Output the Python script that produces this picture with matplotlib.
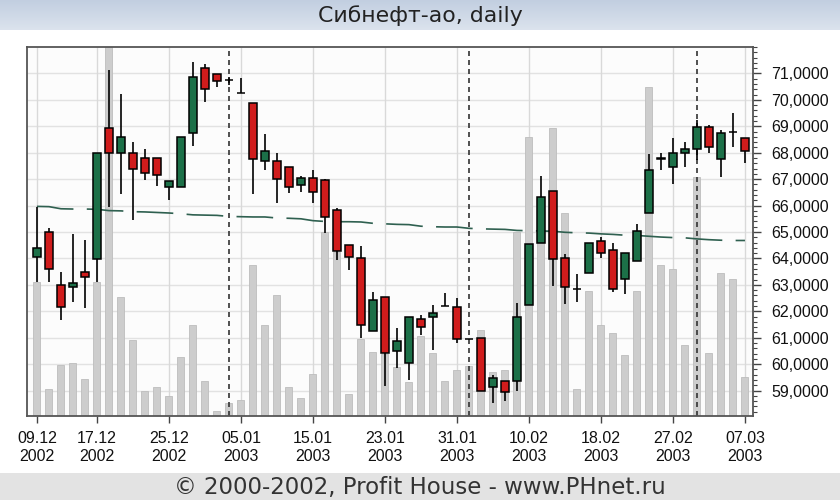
import numpy as np
import matplotlib
matplotlib.use("Agg")
import matplotlib.pyplot as plt
from matplotlib.patches import Rectangle
from matplotlib.ticker import MultipleLocator, FixedLocator, FuncFormatter

# trading days shown on the chart
dates = [
    "09.12.2002", "10.12.2002", "11.12.2002", "13.12.2002", "16.12.2002", "17.12.2002",
    "18.12.2002", "19.12.2002", "20.12.2002", "23.12.2002", "24.12.2002", "25.12.2002",
    "26.12.2002", "27.12.2002", "30.12.2002", "31.12.2002",
    "04.01.2003", "05.01.2003", "08.01.2003", "09.01.2003", "10.01.2003", "13.01.2003",
    "14.01.2003", "15.01.2003", "16.01.2003", "17.01.2003", "20.01.2003", "21.01.2003",
    "22.01.2003", "23.01.2003", "24.01.2003", "27.01.2003", "28.01.2003", "29.01.2003",
    "30.01.2003", "31.01.2003",
    "03.02.2003", "04.02.2003", "05.02.2003", "06.02.2003", "07.02.2003", "10.02.2003",
    "11.02.2003", "12.02.2003", "13.02.2003", "14.02.2003", "17.02.2003", "18.02.2003",
    "19.02.2003", "20.02.2003", "21.02.2003", "25.02.2003", "26.02.2003", "27.02.2003",
    "28.02.2003",
    "03.03.2003", "04.03.2003", "05.03.2003", "06.03.2003", "07.03.2003",
]

open_ = [64.04, 64.99, 63.00, 62.91, 63.48, 63.97, 68.92, 67.98, 68.00, 67.79,
         67.79, 66.72, 66.72, 68.73, 71.19, 70.96, 70.75, 70.27, 69.89, 67.70,
         67.70, 67.47, 66.78, 67.03, 66.97, 65.83, 64.51, 64.01, 61.26, 62.56,
         60.51, 60.06, 61.70, 61.80, 62.22, 62.18, 60.96, 60.98, 59.15, 59.38,
         59.38, 62.24, 64.57, 66.56, 64.01, 62.83, 63.44, 64.67, 64.32, 63.21,
         63.92, 65.71, 67.80, 67.47, 68.00, 68.16, 68.98, 67.75, 68.79, 68.54]
high = [65.96, 65.14, 63.48, 64.93, 64.70, 68.00, 71.13, 70.24, 68.42, 68.16,
        67.79, 66.93, 68.61, 71.42, 71.34, 70.96, 70.87, 70.81, 69.89, 68.71,
        68.00, 67.47, 67.12, 67.35, 67.00, 65.90, 64.51, 64.47, 62.72, 62.56,
        61.36, 61.80, 61.86, 62.24, 62.71, 62.49, 60.96, 60.98, 59.60, 59.38,
        62.33, 64.53, 67.12, 66.56, 64.17, 63.40, 64.60, 64.82, 64.60, 64.22,
        65.30, 67.95, 68.00, 68.54, 68.42, 69.24, 69.05, 68.86, 69.51, 68.54]
low = [63.12, 63.12, 61.67, 62.37, 62.13, 63.12, 65.96, 66.44, 65.45, 66.97,
       66.74, 66.21, 66.72, 68.25, 69.93, 70.47, 70.56, 70.27, 66.44, 67.35,
       66.08, 66.46, 66.53, 66.08, 64.95, 63.94, 63.56, 60.98, 61.26, 59.18,
       59.85, 59.41, 61.11, 60.54, 62.20, 60.79, 60.94, 59.00, 58.52, 58.59,
       58.97, 62.24, 64.57, 62.96, 62.28, 62.37, 63.44, 64.00, 62.75, 62.66,
       63.92, 65.71, 67.35, 66.82, 67.45, 67.72, 67.98, 67.07, 68.20, 67.60]
close = [64.38, 63.59, 62.15, 63.08, 63.29, 68.00, 67.98, 68.61, 67.37, 67.22,
         67.16, 66.93, 68.61, 70.87, 70.40, 70.71, 70.75, 70.27, 67.75, 68.08,
         66.99, 66.72, 67.03, 66.53, 65.56, 64.28, 64.04, 61.49, 62.41, 60.44,
         60.89, 61.80, 61.40, 61.95, 62.22, 60.94, 60.94, 59.00, 59.47, 58.93,
         61.80, 64.53, 66.34, 63.97, 62.91, 62.83, 64.60, 64.22, 62.83, 64.22,
         65.05, 67.35, 67.76, 68.00, 68.16, 68.98, 68.23, 68.76, 68.79, 68.08]
volume = [134, 27, 51, 53, 37, 134, 380, 119, 76, 25,
          29, 20, 59, 91, 35, 5, 13, 16, 151, 91,
          121, 29, 18, 42, 184, 164, 22, 77, 64, 62,
          49, 34, 80, 63, 35, 46, 50, 86, 44, 46,
          184, 279, 190, 288, 203, 27, 125, 91, 83, 61,
          125, 329, 151, 147, 71, 239, 63, 143, 137, 39]
ma_line = [65.97, 65.96, 65.88, 65.87, 65.87, 65.86, 65.81, 65.80, 65.77, 65.76,
           65.74, 65.72, 65.69, 65.65, 65.64, 65.63, 65.59, 65.58, 65.57, 65.57,
           65.53, 65.52, 65.50, 65.43, 65.40, 65.39, 65.39, 65.38, 65.33, 65.31,
           65.29, 65.28, 65.22, 65.20, 65.19, 65.19, 65.14, 65.12, 65.11, 65.10,
           65.06, 65.05, 65.04, 65.03, 64.99, 64.97, 64.96, 64.93, 64.91, 64.88,
           64.87, 64.84, 64.81, 64.79, 64.78, 64.74, 64.71, 64.69, 64.68, 64.68]
price_levels = [59, 60, 61, 62, 63, 64, 65, 66, 67, 68, 69, 70, 71]
tick_dates = ["09.12.2002", "17.12.2002", "25.12.2002", "05.01.2003", "15.01.2003",
              "23.01.2003", "31.01.2003", "10.02.2003", "18.02.2003", "27.02.2003",
              "07.03.2003"]

x = np.arange(len(dates))
o = np.array(open_)
c = np.array(close)
up = c >= o
body_bottom = np.minimum(o, c)
body_height = np.abs(c - o)
colors = np.where(up, "#1c7048", "#d01c1c")

tick_idx = [dates.index(d) for d in tick_dates]
tick_lbl = [d[:5] + "\n" + d[6:] for d in tick_dates]
month_starts = [i for i in range(1, len(dates)) if dates[i][3:5] != dates[i - 1][3:5]]

fig = plt.figure(figsize=(8.4, 5.0), dpi=100)
fig.patch.set_facecolor("white")

# title bar + footer bar
hdr = fig.add_axes([0, 1 - 30 / 500, 1, 30 / 500])
grad = np.linspace(0, 1, 50).reshape(-1, 1)
top_c = np.array([0.76, 0.81, 0.88])
bot_c = np.array([0.86, 0.89, 0.93])
img = top_c + (bot_c - top_c) * grad[:, :, None]
hdr.imshow(img, aspect="auto", extent=[0, 1, 0, 1])
hdr.axis("off")
fig.text(0.5, 1 - 16 / 500, "Сибнефт-ао, daily", ha="center", va="center",
         fontsize=15.8, family="DejaVu Sans", color="#222222")
fig.patches.append(Rectangle((0, 0), 1, 27 / 500, transform=fig.transFigure,
                             facecolor="#e3e3e3", edgecolor="none", zorder=0))
fig.text(0.5, 12.5 / 500, "© 2000-2002, Profit House - www.PHnet.ru", ha="center",
         va="center", fontsize=16.5, family="DejaVu Sans", color="#333333")

ax = fig.add_axes([27 / 840, 84 / 500, 726 / 840, 369 / 500])
ax_vol = ax.twinx()
ax_vol.set_zorder(1)
ax.set_zorder(2)
ax.patch.set_visible(False)
ax_vol.patch.set_visible(True)
ax_vol.patch.set_facecolor("#fcfcfc")

ax.set_xlim(-0.83, 59.67)
ax.set_ylim(58.04, 72.0)
ax_vol.set_ylim(0, 369)

# grid under the volume bars
ax_vol.hlines(price_levels, 0, 1, transform=ax.get_yaxis_transform(), color="#e2e2e2", lw=1.0, zorder=0)
ax_vol.vlines(tick_idx, 0, 1, transform=ax_vol.get_xaxis_transform(), color="#d9d9d9", lw=1.0, zorder=0)

# volume
ax_vol.bar(x, volume, width=0.58, color="#cdcdcd", edgecolor="#bdbdbd", linewidth=0.6, zorder=1)
ax_vol.set_yticks([])
for s in ax_vol.spines.values():
    s.set_visible(False)

# month separators
for m in month_starts:
    ax.axvline(m, color="#333333", lw=1.2, ls=(0, (3, 2.4)), zorder=1)

# moving average
ax.plot(x, ma_line, color="#2f6050", lw=1.2, ls=(0, (22, 8)), zorder=2)

# candles
ax.vlines(x, low, high, color="black", lw=1.2, zorder=3)
ax.bar(x, body_height, bottom=body_bottom, width=0.72, color=colors,
       edgecolor="black", linewidth=1.1, zorder=4)

# axes styling
ax.yaxis.tick_right()
ax.yaxis.set_major_locator(FixedLocator(price_levels))
ax.yaxis.set_minor_locator(MultipleLocator(0.2))
ax.yaxis.set_major_formatter(FuncFormatter(lambda v, _: f"{v:.4f}".replace(".", ",")))
ax.tick_params(axis="y", which="major", length=6, width=1, color="#444444", pad=7,
               labelsize=11.5, labelcolor="#111111")
ax.tick_params(axis="y", which="minor", length=3, width=0.8, color="#444444")
ax.set_xticks(tick_idx)
ax.set_xticklabels(tick_lbl, fontsize=11.5, color="#111111", family="Liberation Sans")
ax.tick_params(axis="x", length=5, width=1, color="#444444", pad=6)
for lbl in ax.get_yticklabels():
    lbl.set_family("Liberation Sans")
for s in ax.spines.values():
    s.set_color("#555555")
    s.set_linewidth(1.3)

fig.savefig("out.png", dpi=100)
